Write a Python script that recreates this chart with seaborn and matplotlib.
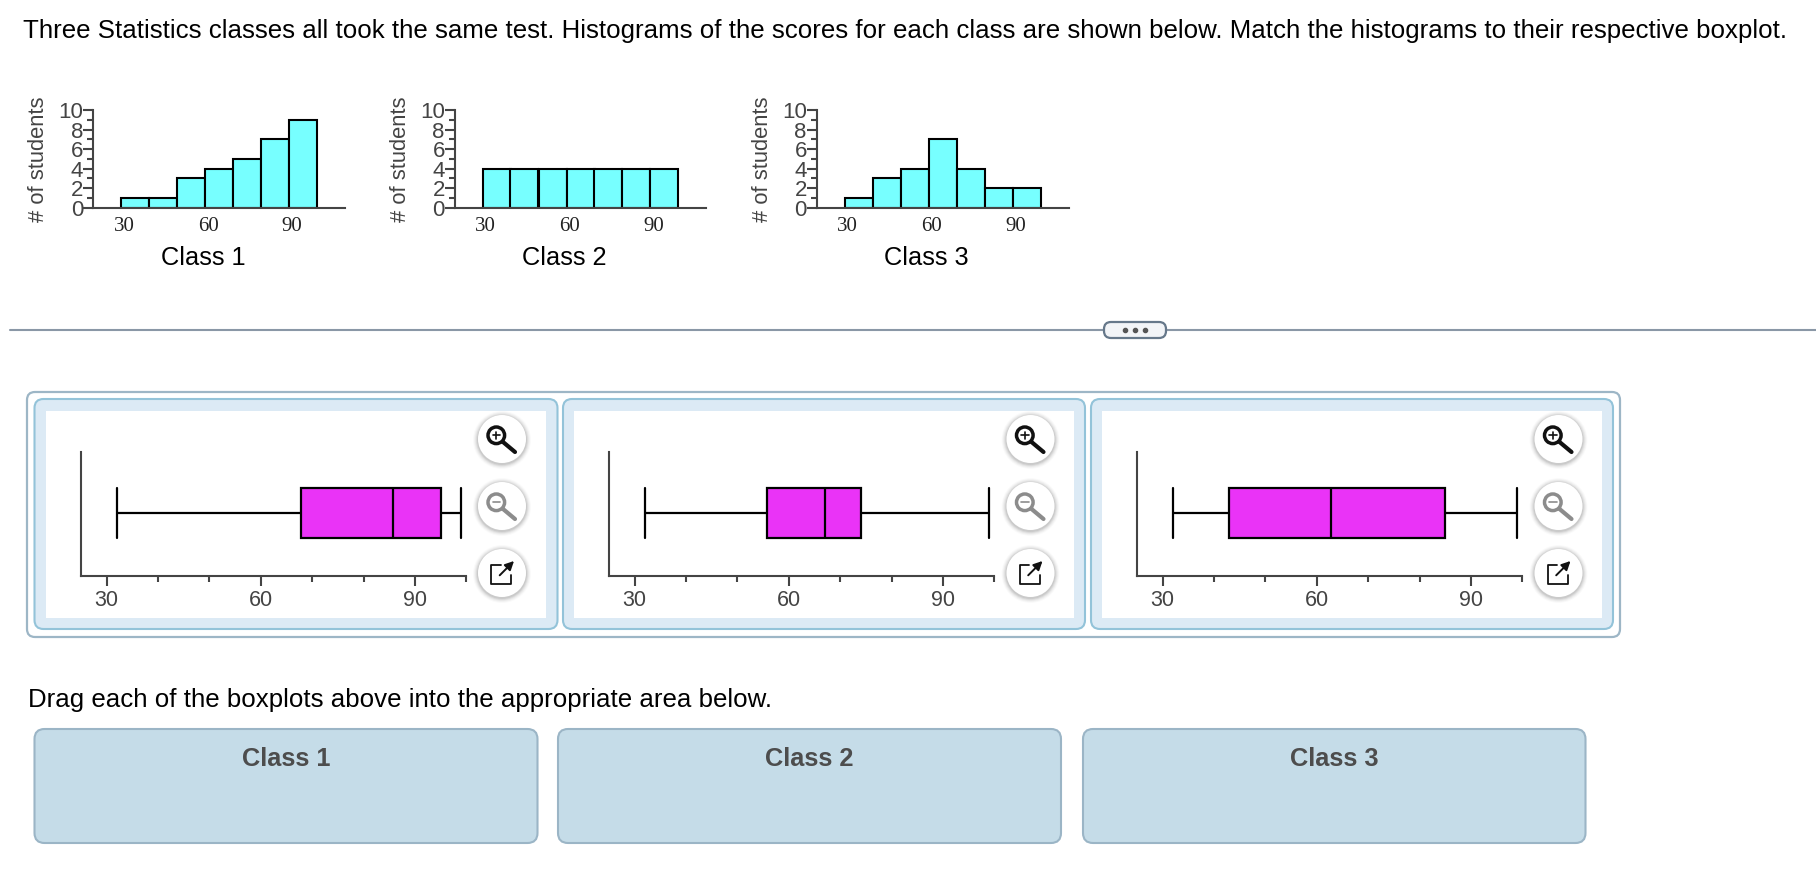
#Script for redrawing the statistics class matching question

# import libraries:
import matplotlib
matplotlib.use('Agg')
import matplotlib.pyplot as plt
from matplotlib.patches import FancyBboxPatch, Circle, Rectangle
from matplotlib.transforms import ScaledTranslation
import seaborn as sns

# histogram data:
bin_edges = [30, 40, 50, 60, 70, 80, 90, 100]
bin_left = [30, 40, 50, 60, 70, 80, 90]
counts_class1 = [1, 1, 3, 4, 5, 7, 9]
counts_class2 = [4, 4, 4, 4, 4, 4, 4]
counts_class3 = [1, 3, 4, 7, 4, 2, 2]
class_names = ['Class 1', 'Class 2', 'Class 3']

# boxplot data, min / Q1 / median / Q3 / max:
box_a = [32, 67.8, 85.8, 95, 99]
box_b = [32, 55.8, 67, 74, 99]
box_c = [32, 43, 62.8, 85, 99]

major_x = [30, 60, 90]
minor_x = [40, 50, 70, 80, 100]

question = ('Three Statistics classes all took the same test. Histograms of the scores for each '
            'class are shown below. Match the histograms to their respective boxplot.')
drag_text = 'Drag each of the boxplots above into the appropriate area below.'

W, H = 1816, 882
GREY = '#444444'

sns.set_style('white')
plt.rcParams['font.family'] = ['Liberation Sans', 'DejaVu Sans']

fig = plt.figure(figsize=(W / 100, H / 100), dpi=100)


def px_axes(x0, y0, x1, y1):
    # axes from pixel box, y measured from top of the figure
    ax = fig.add_axes([x0 / W, 1 - y1 / H, (x1 - x0) / W, (y1 - y0) / H])
    ax.patch.set_alpha(0)
    ax.set_zorder(2)
    return ax


# page layer for everything around the charts:
bg = fig.add_axes([0, 0, 1, 1])
bg.set_xlim(0, W)
bg.set_ylim(H, 0)
bg.axis('off')
bg.set_zorder(1)


def rbox(x0, y0, x1, y1, face, edge, r=10, lw=1.5, z=1):
    bg.add_patch(FancyBboxPatch((x0 + r, y0 + r), x1 - x0 - 2 * r, y1 - y0 - 2 * r,
                                boxstyle='round,pad=%d,rounding_size=%d' % (r, r),
                                fc=face, ec=edge, lw=lw, zorder=z))


def button(cx, cy, kind):
    # soft shadow first, then the white disc
    for r, a in [(29, 0.02), (28, 0.03), (27, 0.04), (26, 0.06), (25, 0.07)]:
        bg.add_patch(Circle((cx, cy + 1), r, fc='black', ec='none', alpha=a))
    bg.add_patch(Circle((cx, cy), 24, fc='white', ec='none'))
    if kind == 'export':
        bg.plot([cx - 1.5, cx - 10.7, cx - 10.7, cx + 9, cx + 9],
                [cy - 8.3, cy - 8.3, cy + 11.3, cy + 11.3, cy + 2.3], color='#111111', lw=1.3)
        bg.annotate('', xy=(cx + 12, cy - 12), xytext=(cx - 2.3, cy + 2.3),
                    arrowprops=dict(arrowstyle='-|>', color='#111111', lw=1.4, mutation_scale=13,
                                    shrinkA=0, shrinkB=0))
        return
    col = '#111111' if kind == 'plus' else '#8c8c8c'
    lx, ly = cx - 5.7, cy - 3.7
    bg.add_patch(Circle((lx, ly), 8.3, fc='none', ec=col, lw=2.5))
    bg.plot([lx + 6.5, cx + 13], [ly + 6.5, cy + 13], color=col, lw=3, solid_capstyle='round')
    bg.plot([lx - 3.7, lx + 3.7], [ly, ly], color=col, lw=1.2)
    if kind == 'plus':
        bg.plot([lx, lx], [ly - 3.7, ly + 3.7], color=col, lw=1.2)


# question text and divider:
bg.text(23, 31, question, fontsize=18.68, color='black', va='center', ha='left')
bg.plot([10, W], [330, 330], color='#8a97a6', lw=1.5)
rbox(1104, 322, 1166, 338, '#f2f4f7', '#66788a', r=7, lw=1.6, z=3)
bg.plot([1124.6, 1135, 1145.4], [330, 330, 330], ls='none', marker='o', ms=3, color='#555555', zorder=4)

# cards holding the boxplots:
rbox(27, 392, 1620, 637, 'white', '#9db6c6', r=8, lw=1.6)
for off, right in zip([0, 528.5, 1056.5], [557.5, 1085, 1613]):
    rbox(34.5 + off, 399, right, 629, '#dceaf5', '#93c3d9', r=9, lw=1.5)
    bg.add_patch(Rectangle((45.5 + off, 411), right - 11.5 - (45.5 + off), 207, fc='white', ec='none'))
    button(502 + off, 439, 'plus')
    button(502 + off, 506, 'minus')
    button(502 + off, 573, 'export')

# drop areas:
bg.text(28.5, 700, drag_text, fontsize=18.66, color='black', va='center', ha='left')
for x0, x1, name in zip([34.5, 558, 1083], [537.5, 1061, 1585.5], class_names):
    rbox(x0, 729, x1, 843, '#c5dce8', '#9bb5c6', r=10, lw=1.5)
    bg.text((x0 + x1) / 2, 759, name, fontsize=18.3, fontweight='bold', color='#4d4d4d',
            ha='center', va='center')

# histograms:
hist_offsets = [0, 361.5, 723.5]
hist_counts = [counts_class1, counts_class2, counts_class3]
for off, counts, name in zip(hist_offsets, hist_counts, class_names):
    ax = px_axes(93 + off, 110, 345 + off, 207.7)
    sns.histplot(x=bin_left, weights=counts, bins=bin_edges, ax=ax, color='#77ffff',
                 edgecolor='black', linewidth=1.5, alpha=1)
    ax.set_xlim(20, 110)
    ax.set_ylim(0, 10)
    sns.despine(ax=ax)
    for s in ['left', 'bottom']:
        ax.spines[s].set_color(GREY)
        ax.spines[s].set_linewidth(1.5)
    ax.set_xticks(major_x)
    ax.set_xticklabels(major_x, family='Liberation Serif', fontsize=15, color='#222222')
    ax.tick_params(axis='x', length=0, pad=7)
    # labels sit a little right of the bin edge
    for lab in ax.get_xticklabels():
        lab.set_transform(lab.get_transform() + ScaledTranslation(3 / 100, 0, fig.dpi_scale_trans))
    ax.set_yticks([0, 2, 4, 6, 8, 10])
    ax.set_yticks([1, 3, 5, 7, 9], minor=True)
    ax.tick_params(axis='y', which='major', left=True, length=7, width=1.5, color=GREY, pad=0,
                   labelsize=16, labelcolor=GREY)
    ax.tick_params(axis='y', which='minor', left=True, length=4, width=1.5, color=GREY)
    ax.set_ylabel('# of students', fontsize=15.8, color=GREY)
    ax.yaxis.set_label_coords((49 - 93) / 252, 0.5)
    ax.set_xlabel(name, fontsize=18.3, color='black')
    ax.xaxis.set_label_coords((203 - 93) / 252, (207.7 - 258.5) / 97.7, transform=ax.transAxes)
    ax.xaxis.label.set_va('center')

# boxplots:
box_offsets = [0, 528, 1056]
for off, vals in zip(box_offsets, [box_a, box_b, box_c]):
    ax = px_axes(81 + off, 452, 466.4 + off, 576)
    sns.boxplot(x=vals, ax=ax, whis=(0, 100), color='#ea33f7', saturation=1, linecolor='black',
                linewidth=1.6, width=0.8, capwidths=0.8)
    ax.set_xlim(25, 100)
    ax.set_ylim(1.0, -0.97)
    sns.despine(ax=ax)
    for s in ['left', 'bottom']:
        ax.spines[s].set_color(GREY)
        ax.spines[s].set_linewidth(1.5)
    ax.set_yticks([])
    ax.set_xticks(major_x)
    ax.set_xticks(minor_x, minor=True)
    ax.tick_params(axis='x', which='major', bottom=True, length=7, width=1.5, color=GREY, pad=3,
                   labelsize=15.5, labelcolor=GREY)
    ax.tick_params(axis='x', which='minor', bottom=True, length=4.5, width=1.5, color=GREY)

fig.savefig('out.png', dpi=100)
